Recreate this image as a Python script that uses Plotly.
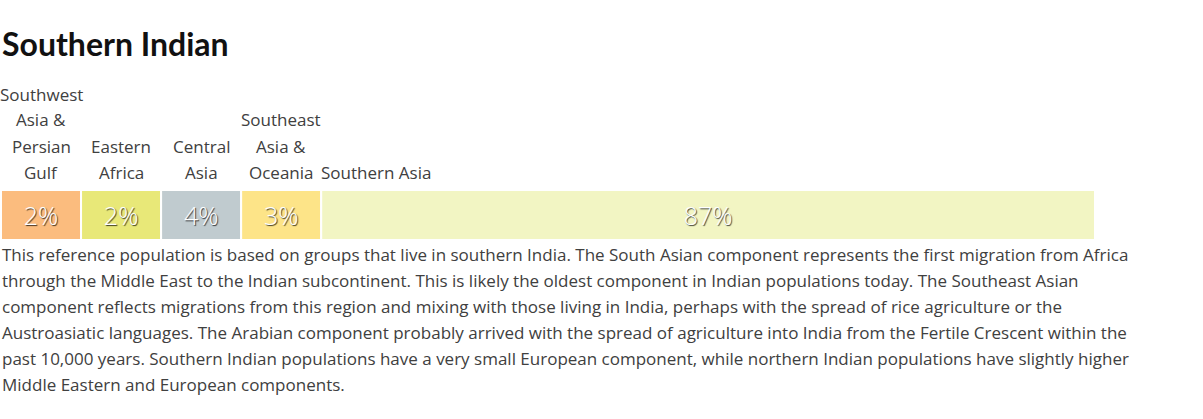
import plotly.graph_objects as go

# --- data ---
title = "Southern Indian"
regions = [
    "Southwest\nAsia &\nPersian\nGulf",
    "Eastern\nAfrica",
    "Central\nAsia",
    "Southeast\nAsia &\nOceania",
    "Southern Asia",
]
shares = [2, 2, 4, 3, 87]
colors = ["#fbbc7e", "#e8e878", "#c0cbcf", "#fde488", "#f2f5c3"]
paragraph = [
    "This reference population is based on groups that live in southern India. The South Asian component represents the first migration from Africa",
    "through the Middle East to the Indian subcontinent. This is likely the oldest component in Indian populations today. The Southeast Asian",
    "component reflects migrations from this region and mixing with those living in India, perhaps with the spread of rice agriculture or the",
    "Austroasiatic languages. The Arabian component probably arrived with the spread of agriculture into India from the Fertile Crescent within the",
    "past 10,000 years. Southern Indian populations have a very small European component, while northern Indian populations have slightly higher",
    "Middle Eastern and European components.",
]

# --- layout constants ---
W, H = 1203, 419
FONT = "Open Sans"
TEXT_COLOR = "#404040"
MIN_SHARE = 9  # small slices get a minimum drawn width
LINE_H = 26

widths = [max(s, MIN_SHARE) for s in shares]
starts = []
acc = 0
for w in widths:
    starts.append(acc)
    acc += w
total = acc


def py(y_px):
    return 1 - y_px / H


fig = go.Figure(go.Bar(
    orientation="h",
    y=[0] * len(shares),
    x=widths,
    base=starts,
    width=1,
    marker=dict(color=colors, line=dict(color="white", width=2)),
    text=[f"{s}%" for s in shares],
    textposition="inside",
    insidetextanchor="middle",
    textfont=dict(family=FONT, size=25, color="white", weight=300,
                  shadow="1px 1px 1px rgba(0,0,0,0.75)"),
    hoverinfo="skip",
))

annotations = [dict(
    text=f"<b>{title}</b>", xref="paper", yref="paper", x=0, y=py(44),
    xanchor="left", yanchor="middle", showarrow=False,
    font=dict(family="Lato", size=32, color="#111111"),
)]

# category labels above each slice
for label, s0, w in zip(regions, starts, widths):
    lines = label.split("\n")
    wide = w > 3 * MIN_SHARE
    for j, line in enumerate(lines):
        cy = 172 - LINE_H * (len(lines) - 1 - j)
        annotations.append(dict(
            text=line, xref="x", yref="paper",
            x=s0 if wide else s0 + w / 2, y=py(cy),
            xanchor="left" if wide else "center", yanchor="middle",
            xshift=-2 if wide else 0, showarrow=False,
            font=dict(family=FONT, size=17, color=TEXT_COLOR),
        ))

# description paragraph
for i, line in enumerate(paragraph):
    annotations.append(dict(
        text=line, xref="paper", yref="paper", x=0, y=py(254 + LINE_H * i),
        xanchor="left", yanchor="middle", showarrow=False,
        font=dict(family=FONT, size=17, color=TEXT_COLOR),
    ))

fig.update_layout(
    width=W, height=H,
    margin=dict(l=0, r=0, t=0, b=0),
    paper_bgcolor="white", plot_bgcolor="white",
    showlegend=False,
    xaxis=dict(range=[0, total], domain=[1 / W, 1095 / W], visible=False, fixedrange=True),
    yaxis=dict(range=[-0.5, 0.5], domain=[py(240), py(190)], visible=False, fixedrange=True),
    annotations=annotations,
)

# the page's default body margin would offset the figure
fig.write_html("out.html", config={"displayModeBar": False},
               post_script="document.body.style.margin = '0';")
